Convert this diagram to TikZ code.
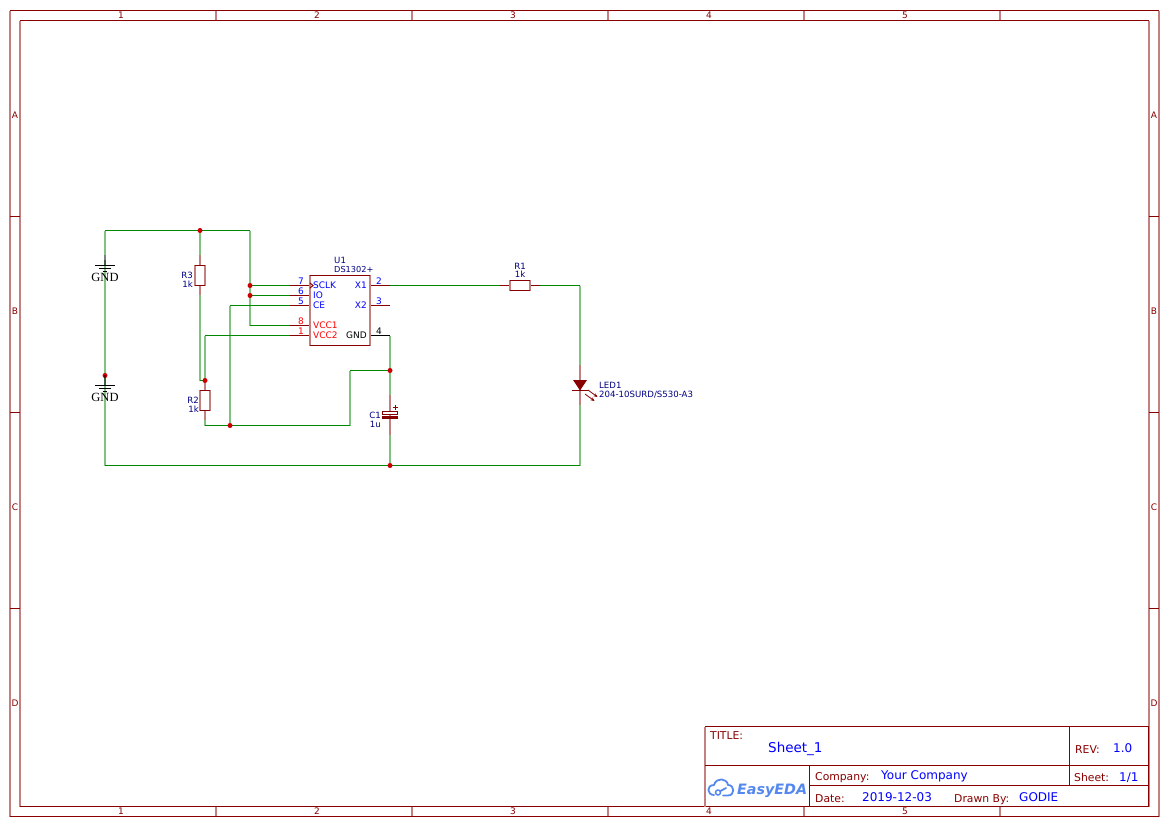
\documentclass[tikz,border=0pt]{standalone}
\usepackage{fontspec}
\setmainfont{DejaVu Sans}
\newfontfamily\gndfont{Liberation Serif}
\usetikzlibrary{arrows.meta}
\definecolor{sheetred}{HTML}{880000}
\definecolor{wiregreen}{HTML}{008800}
\definecolor{partblue}{HTML}{000080}
\definecolor{logoblue}{HTML}{5588EE}
\tikzset{
  hred/.style={draw=sheetred,line width=1pt},
  vred/.style={draw=sheetred!50,line width=2pt},
  hwire/.style={draw=wiregreen,line width=1pt},
  vwire/.style={draw=wiregreen!50,line width=2pt},
  junction/.style={circle,fill=red!80!black,inner sep=0pt,minimum size=5pt},
  resbox/.style={fill=white,minimum width=10pt,minimum height=20pt,inner sep=0pt},
  resboxh/.style={fill=white,minimum width=20pt,minimum height=10pt,inner sep=0pt},
  tag/.style={inner sep=0pt,font=\fontsize{9}{9}\selectfont},
  parttag/.style={inner sep=0pt,text=partblue,font=\fontsize{8.6}{9}\selectfont},
  pinblue/.style={tag,text=blue},
  pinred/.style={tag,text=red},
  sheettag/.style={inner sep=0pt,anchor=base west,text=sheetred,font=\fontsize{10.8}{11}\selectfont},
  sheetval/.style={inner sep=0pt,anchor=base west,text=blue,font=\fontsize{12}{12}\selectfont},
  gndtag/.style={inner sep=0pt,font=\gndfont\fontsize{12.5}{13}\selectfont},
}
\begin{document}
\begin{tikzpicture}[x=1pt,y=-1pt]
  \useasboundingbox (0,0) rectangle (1169,827);

  % sheet frame
  \foreach \xline in {10,1159} {
    \draw[vred] (\xline,10.5) -- (\xline,816.5);
  }
  \foreach \xline in {20,1149} {
    \draw[vred] (\xline,20.5) -- (\xline,806.5);
  }
  \foreach \xtick in {216,412,608,804,1000} {
    \draw[vred] (\xtick,10.5) -- (\xtick,20.5);
    \draw[vred] (\xtick,806.5) -- (\xtick,816.5);
  }
  \draw[hred] (10,10.5) -- (1159,10.5);
  \draw[hred] (20,20.5) -- (1149,20.5);
  \draw[hred] (20,806.5) -- (1149,806.5);
  \draw[hred] (10,816.5) -- (1159,816.5);
  \foreach \ytick in {216.5,412.5,608.5} {
    \draw[hred] (10,\ytick) -- (20,\ytick);
    \draw[hred] (1149,\ytick) -- (1159,\ytick);
  }
  \foreach \xlab/\colnum in {121/1,317/2,513/3,709/4,905/5} {
    \node[tag,text=sheetred] (top\colnum) at (\xlab,15.5) {\colnum};
    \node[tag,text=sheetred] (bot\colnum) at (\xlab,811.5) {\colnum};
  }
  \foreach \ylab/\rowname in {115/A,311/B,507/C,703/D} {
    \node[tag,text=sheetred] (left\rowname) at (15,\ylab) {\rowname};
    \node[tag,text=sheetred] (right\rowname) at (1154,\ylab) {\rowname};
  }

  % title block
  \draw[vred] (705,726.5) -- (705,806.5);
  \draw[hred] (705,726.5) -- (1148.5,726.5);
  \draw[hred] (705,765.5) -- (1148.5,765.5);
  \draw[hred] (809.5,785.5) -- (1148.5,785.5);
  \draw[hred] (809.5,765.5) -- (809.5,806.5);
  \draw[hred] (1069.5,726.5) -- (1069.5,785.5);
  \draw[hred] (1148.5,726.5) -- (1148.5,806.5);
  \node[sheettag] (titlelab) at (710,739) {TITLE:};
  \node[sheetval,font=\fontsize{13.5}{14}\selectfont] (titleval) at (768,752) {Sheet\_1};
  \node[sheettag] (revlab) at (1075,753) {REV:};
  \node[sheetval] (revval) at (1113,752.5) {1.0};
  \node[sheettag] (sheetlab) at (1074,781.5) {Sheet:};
  \node[sheetval] (sheetval) at (1119,781.5) {1/1};
  \node[sheettag] (complab) at (815,780) {Company:};
  \node[sheetval] (compval) at (881,779.5) {Your Company};
  \node[sheettag] (datelab) at (815,802) {Date:};
  \node[sheetval] (dateval) at (862,801.5) {2019-12-03};
  \node[sheettag] (drawnlab) at (954,802) {Drawn By:};
  \node[sheetval] (drawnval) at (1019,801.5) {GODIE};

  % logo
  \draw[logoblue,line width=1.8pt,line cap=round,line join=round]
    (714,795) .. controls (707,795) and (706,785) .. (714,785)
    .. controls (716,777) and (727,778) .. (728,785)
    .. controls (735,785) and (735,795.5) .. (728,795.5) -- (723,795.5);
  \draw[logoblue,line width=1.5pt] (718,792.5) circle (2.5pt);
  \draw[logoblue,line width=1.8pt,line cap=round] (720.5,791) -- (726,788);
  \node[inner sep=0pt,anchor=base west,text=logoblue,font=\bfseries\itshape\fontsize{14.3}{15}\selectfont] (logotext) at (737,794.5) {EasyEDA};

  % U1
  \node[minimum width=60pt,minimum height=70pt,inner sep=0pt] (U1) at (340,310.5) {};
  \node[parttag,anchor=west] (U1ref) at (334,260) {U1};
  \node[parttag,anchor=west,font=\fontsize{8.2}{9}\selectfont] (U1val) at (334,269.5) {DS1302+};
  \foreach \py/\pinnum/\pinname in {285.5/7/SCLK,295.5/6/IO,305.5/5/CE} {
    \coordinate (p\pinnum) at (290,\py);
    \draw[hred] (p\pinnum) -- (310,\py);
    \node[pinblue,anchor=west] (name\pinnum) at (313,\py) {\pinname};
    \node[pinblue] (num\pinnum) at (301,\py-4) {\pinnum};
  }
  \foreach \py/\pinnum/\pinname in {325.5/8/VCC1,335.5/1/VCC2} {
    \coordinate (p\pinnum) at (290,\py);
    \draw[hred] (p\pinnum) -- (310,\py);
    \node[pinred,anchor=west] (name\pinnum) at (313,\py) {\pinname};
    \node[pinred] (num\pinnum) at (301,\py-4) {\pinnum};
  }
  \coordinate (p2) at (390,285.5);
  \coordinate (p3) at (390,305.5);
  \coordinate (p4) at (390,335.5);
  \draw[hred] (370,285.5) -- (p2);
  \draw[hred] (370,305.5) -- (p3);
  \draw (370,335.5) -- (p4);
  \node[pinblue,anchor=east] (nameX1) at (367,285.5) {X1};
  \node[pinblue,anchor=east] (nameX2) at (367,305.5) {X2};
  \node[tag,anchor=east] (nameG) at (367,335.5) {GND};
  \node[pinblue] (num2) at (379,281.5) {2};
  \node[pinblue] (num3) at (379,301.5) {3};
  \node[tag] (num4) at (379,331.5) {4};

  % R3
  \node[resbox] (R3) at (200,275.5) {};
  \coordinate (R3a) at (200,255);
  \coordinate (R3b) at (200,295);
  \draw[vred] (R3a) -- (R3.north);
  \draw[vred] (R3.south) -- (R3b);
  \node[parttag,anchor=east] (R3ref) at (193,275) {R3};
  \node[parttag,anchor=east] (R3val) at (193,284) {1k};

  % R2
  \node[resbox] (R2) at (205,400.5) {};
  \coordinate (R2a) at (205,380);
  \coordinate (R2b) at (205,420);
  \draw[vred] (R2a) -- (R2.north);
  \draw[vred] (R2.south) -- (R2b);
  \node[parttag,anchor=east] (R2ref) at (199,400) {R2};
  \node[parttag,anchor=east] (R2val) at (199,409) {1k};

  % R1
  \node[resboxh] (R1) at (520,285.5) {};
  \coordinate (R1a) at (500,285.5);
  \coordinate (R1b) at (540,285.5);
  \draw[hred] (R1a) -- (R1.west);
  \draw[hred] (R1.east) -- (R1b);
  \node[parttag] (R1ref) at (520,266) {R1};
  \node[parttag] (R1val) at (520,274.5) {1k};

  % part outlines
  \foreach \part in {U1,R3,R2,R1} {
    \draw[vred] (\part.north west) -- (\part.south west);
    \draw[vred] (\part.north east) -- (\part.south east);
    \draw[hred] (\part.north west) -- (\part.north east);
    \draw[hred] (\part.south west) -- (\part.south east);
  }
  \draw[hred] (310,283) -- (313,285.5) -- (310,288);

  % C1
  \coordinate (C1a) at (390,395);
  \coordinate (C1b) at (390,435);
  \draw[vred] (C1a) -- (C1b);
  \draw[hred,fill=white] (382.5,411.5) rectangle (397.5,414.5);
  \fill[sheetred] (382,416) rectangle (398,419);
  \draw[hred] (392.5,407.5) -- (398,407.5);
  \draw[hred] (395.5,405) -- (395.5,410);
  \node[parttag,anchor=east] (C1ref) at (381,415) {C1};
  \node[parttag,anchor=east] (C1val) at (381,424) {1u};

  % LED1
  \coordinate (D1a) at (580,365);
  \coordinate (D1b) at (580,405);
  \draw[vred] (D1a) -- (D1b);
  \fill[sheetred] (573,380) -- (587,380) -- (580,390.5) -- cycle;
  \draw[hred] (572,390.5) -- (588,390.5);
  \draw[sheetred,line width=.8pt,-{Stealth[length=4pt,width=3.5pt]}] (588,390) -- (597.5,397);
  \draw[sheetred,line width=.8pt,-{Stealth[length=4pt,width=3.5pt]}] (585,394) -- (594.5,401);
  \node[parttag,anchor=west] (D1ref) at (599,385) {LED1};
  \node[parttag,anchor=west] (D1val) at (599,394.5) {204-10SURD/S530-A3};

  % wires
  \coordinate (topL) at (105,230.5);
  \coordinate (topM) at (200,230.5);
  \coordinate (topR) at (250,230.5);
  \coordinate (jscl) at (250,285.5);
  \coordinate (jio) at (250,295.5);
  \coordinate (c8) at (250,325.5);
  \coordinate (stemA) at (105,255);
  \coordinate (stemB) at (105,260);
  \coordinate (gndj) at (105,375.5);
  \coordinate (botL) at (105,465.5);
  \coordinate (botC) at (390,465.5);
  \coordinate (botR) at (580,465.5);
  \coordinate (capj) at (390,370.5);
  \coordinate (r3end) at (200,380.5);
  \coordinate (r2j) at (205,380.5);
  \coordinate (c1) at (205,335.5);
  \coordinate (r2end) at (205,425.5);
  \coordinate (cej) at (230,425.5);
  \coordinate (c5) at (230,305.5);
  \coordinate (loopB) at (350,425.5);
  \coordinate (loopT) at (350,370.5);
  \coordinate (ledT) at (580,285.5);
  \draw[vwire] (topL) -- (stemA);
  \draw[vwire] (stemB) -- (botL);
  \draw[vwire] (topM) -- (R3a);
  \draw[vwire] (R3b) -- (r3end);
  \draw[vwire] (topR) -- (c8);
  \draw[vwire] (c1) -- (R2a);
  \draw[vwire] (R2b) -- (r2end);
  \draw[vwire] (cej) -- (c5);
  \draw[vwire] (loopB) -- (loopT);
  \draw[vwire] (p4) -- (C1a);
  \draw[vwire] (C1b) -- (botC);
  \draw[vwire] (ledT) -- (D1a);
  \draw[vwire] (D1b) -- (botR);
  \draw[hwire] (topL) -- (topR);
  \draw[hwire] (jscl) -- (p7);
  \draw[hwire] (jio) -- (p6);
  \draw[hwire] (c5) -- (p5);
  \draw[hwire] (c8) -- (p8);
  \draw[hwire] (c1) -- (p1);
  \draw[hwire] (r3end) -- (r2j);
  \draw[hwire] (r2end) -- (loopB);
  \draw[hwire] (loopT) -- (capj);
  \draw[hwire] (p2) -- (R1a);
  \draw[hwire] (R1b) -- (ledT);
  \draw[hwire] (botL) -- (botR);
  \foreach \jpt in {topM,jscl,jio,gndj,r2j,cej,capj,botC} {
    \node[junction] (dot\jpt) at (\jpt) {};
  }

  % GND flags
  \foreach \gy/\gname in {265/G1,385/G2} {
    \coordinate (\gname) at (105,\gy+.5);
    \draw[black,opacity=.5,line width=2pt] (105,\gy-10) -- (\gname);
    \draw (95,\gy+.5) -- (115,\gy+.5);
    \draw (99,\gy+3.5) -- (111,\gy+3.5);
    \draw (103,\gy+6.5) -- (107,\gy+6.5);
    \node[gndtag] (\gname lab) at (105,\gy+12.5) {GND};
  }
\end{tikzpicture}
\end{document}
